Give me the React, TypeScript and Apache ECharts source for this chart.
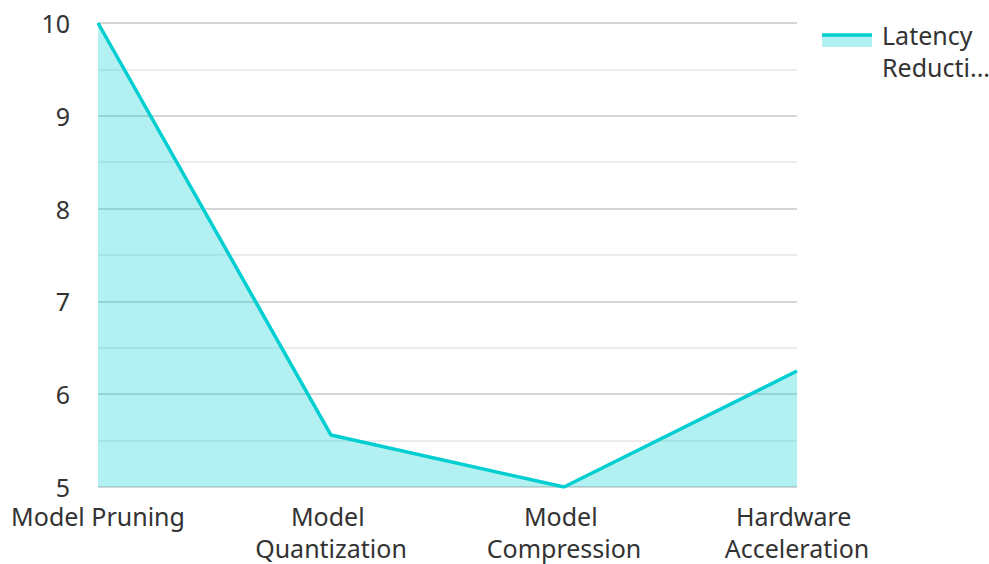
import React, { useEffect, useRef } from "react";
import * as echarts from "echarts";

const categories = ["Model Pruning", "Model Quantization", "Model Compression", "Hardware Acceleration"];
const latencyReduction = [10, 5.56, 5.0, 6.25];
const seriesName = "Latency Reduction";

const LINE = "#00CED1";
const AREA = "#B2F0F1";
const FONT = "Noto Sans";

export default function App() {
  const ref = useRef<HTMLDivElement>(null);
  useEffect(() => {
    document.body.style.margin = "0";
    if (!ref.current) return;
    const chart = echarts.init(ref.current, undefined, { renderer: "svg" });
    chart.setOption({
      animation: false,
      textStyle: { fontFamily: FONT },
      grid: { left: 96, right: 192, top: 23, bottom: 74, containLabel: false },
      xAxis: {
        type: "category",
        data: categories,
        boundaryGap: false,
        axisLine: { show: false },
        axisTick: { show: false },
        splitLine: { show: false },
        axisLabel: {
          fontFamily: FONT,
          fontSize: 25,
          color: "#333",
          margin: 13,
          lineHeight: 32,
          width: 190,
          overflow: "break",
          interval: 0,
        },
      },
      yAxis: {
        type: "value",
        min: 5,
        max: 10,
        interval: 1,
        axisLine: { show: false },
        axisTick: { show: false },
        axisLabel: { fontFamily: FONT, fontSize: 25, color: "#333", margin: 28 },
        splitLine: { show: true, lineStyle: { color: "#c8c8c8", width: 1.5 } },
        minorTick: { show: false, splitNumber: 2 },
        minorSplitLine: { show: true, lineStyle: { color: "#e6e6e6", width: 1.5 } },
      },
      series: [
        {
          name: seriesName,
          type: "line",
          data: latencyReduction,
          showSymbol: false,
          symbol: "none",
          lineStyle: { color: LINE, width: 3.5 },
          itemStyle: { color: LINE },
          areaStyle: { color: LINE, opacity: 0.3 },
          z: 3,
        },
      ],
      graphic: [
        { type: "rect", shape: { x: 822, y: 36, width: 50, height: 11 }, style: { fill: AREA } },
        { type: "line", shape: { x1: 822, y1: 35, x2: 872, y2: 35 }, style: { stroke: LINE, lineWidth: 3.5 } },
        {
          type: "text",
          x: 882,
          y: 19,
          style: {
            text: "Latency\nReducti...",
            fontFamily: FONT,
            fontSize: 25,
            lineHeight: 32,
            fill: "#333",
          },
        },
      ],
    });
    return () => chart.dispose();
  }, []);
  return <div ref={ref} style={{ width: 989, height: 564 }} />;
}
